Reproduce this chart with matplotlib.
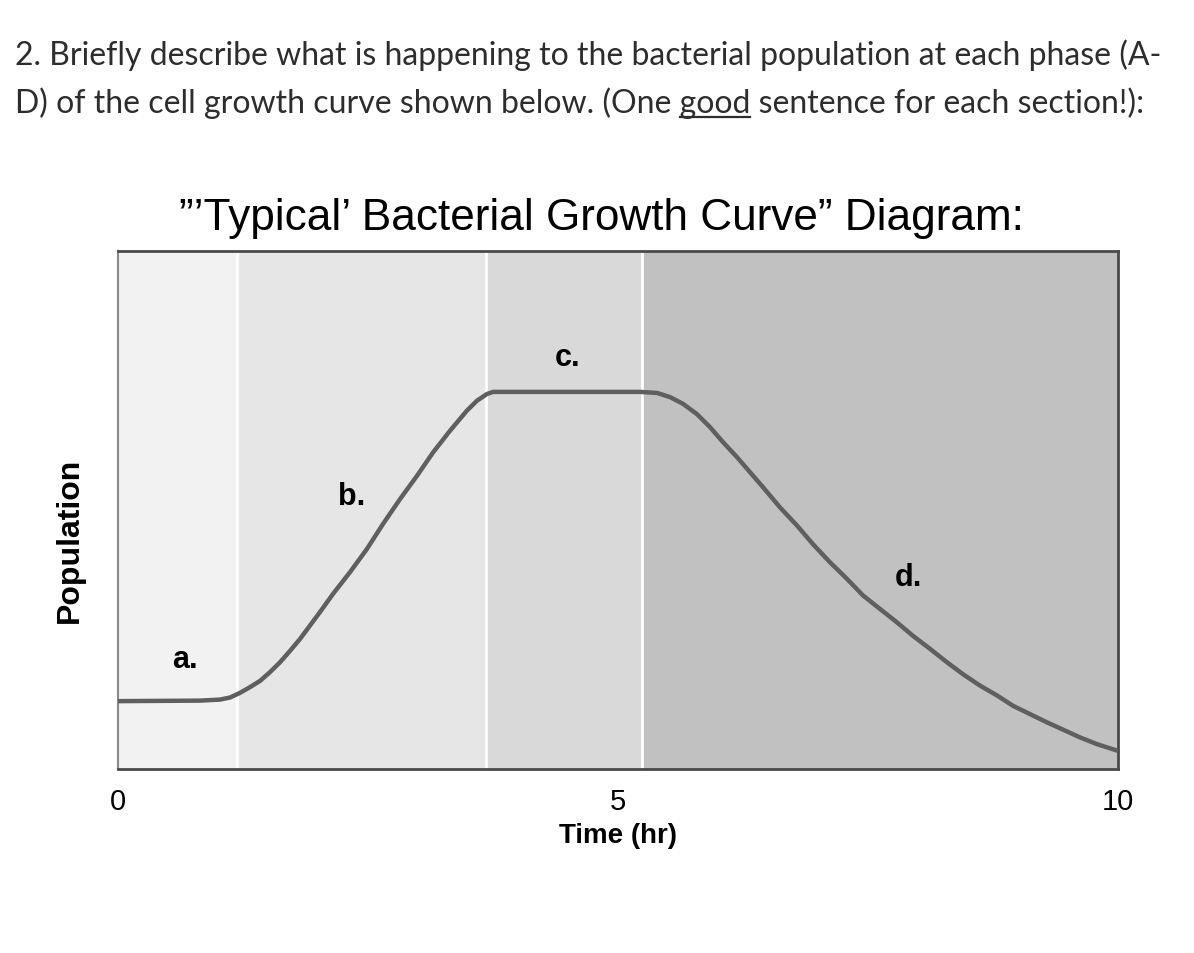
import matplotlib
matplotlib.use("Agg")
import matplotlib.pyplot as plt
from matplotlib.lines import Line2D

# ---------------- data ----------------
time_hr = [0.0, 0.82, 1.02, 1.12, 1.22, 1.32, 1.42, 1.52, 1.62, 1.72, 1.82, 1.92,
           2.02, 2.15, 2.32, 2.49, 2.65, 2.82, 2.99, 3.15, 3.32, 3.49, 3.59, 3.69,
           3.75, 5.22, 5.39, 5.52, 5.65, 5.79, 5.92, 6.05, 6.19, 6.32, 6.45, 6.62,
           6.79, 6.95, 7.12, 7.29, 7.45, 7.62, 7.79, 7.95, 8.12, 8.29, 8.45, 8.62,
           8.79, 8.95, 9.12, 9.29, 9.45, 9.62, 9.79, 10.0]
population = [13.1, 13.2, 13.4, 13.8, 14.7, 15.8, 17.0, 18.7, 20.6, 22.8, 25.1, 27.7,
              30.3, 33.8, 38.0, 42.5, 47.3, 52.1, 56.6, 61.1, 65.3, 69.2, 71.1, 72.4,
              72.8, 72.8, 72.6, 71.8, 70.5, 68.5, 66.0, 63.1, 60.2, 57.3, 54.4, 50.5,
              47.0, 43.4, 39.9, 36.7, 33.5, 30.9, 28.3, 25.7, 23.2, 20.6, 18.3, 16.1,
              14.2, 12.2, 10.6, 9.0, 7.6, 6.1, 4.8, 3.5]
phase_edges = [0, 1.19, 3.68, 5.24, 10]
phase_colors = ["#f2f2f2", "#e6e6e6", "#d9d9d9", "#c1c1c1"]
phase_labels = ["a.", "b.", "c.", "d."]
phase_label_x = [0.67, 2.34, 4.5, 7.9]
phase_label_y = [21.2, 52.7, 79.5, 37.1]
x_ticks = [0, 5, 10]
x_tick_labels = ["0", "5", "10"]

header_line1 = "2. Briefly describe what is happening to the bacterial population at each phase (A-"
header_line2_pre = "D) of the cell growth curve shown below. (One"
header_line2_ul = "good"
header_line2_post = "sentence for each section!):"
title = "\u201d\u2019Typical\u2019 Bacterial Growth Curve\u201d Diagram:"

W, H = 1194, 954
fig = plt.figure(figsize=(W / 100, H / 100), dpi=100)
fig.patch.set_facecolor("white")

narrow = ["Liberation Sans Narrow", "Liberation Sans", "DejaVu Sans"]
header_font = dict(family=["Lato", "DejaVu Sans"], size=23, color="#2d2d2d")

ax = fig.add_axes([118 / W, (H - 770) / H, 1000 / W, 518 / H])
ax.set_xlim(0, 10)
ax.set_ylim(0, 100)

for i in range(len(phase_colors)):
    ax.axvspan(phase_edges[i], phase_edges[i + 1], color=phase_colors[i], lw=0, zorder=0)
for e in phase_edges[1:-1]:
    ax.axvline(e, color="white", lw=2, zorder=1)

ax.plot(time_hr, population, color="#5f5f5f", lw=3.2, solid_capstyle="butt",
        solid_joinstyle="round", zorder=3)

for lab, lx, ly in zip(phase_labels, phase_label_x, phase_label_y):
    ax.text(lx, ly, lab, ha="center", va="center", fontsize=22, fontweight="bold",
            family=narrow, color="black", zorder=4)

ax.set_xticks(x_ticks)
ax.set_xticklabels(x_tick_labels, family=narrow, fontsize=21)
ax.set_yticks([])
ax.tick_params(axis="x", length=0, pad=13)
ax.set_xlabel("Time (hr)", family=narrow, fontsize=20, fontweight="bold", labelpad=5)

fig.text(70 / W, 1 - 540 / H, "Population", rotation=90, ha="center", va="center",
         family=["Liberation Sans", "DejaVu Sans"], fontsize=23, fontweight="bold",
         color="black")

ax.spines["top"].set_color("#4a4a4a")
ax.spines["top"].set_linewidth(2)
ax.spines["bottom"].set_color("#4a4a4a")
ax.spines["bottom"].set_linewidth(2)
ax.spines["left"].set_color("#8a8a8a")
ax.spines["left"].set_linewidth(1.5)
ax.spines["right"].set_color("#4a4a4a")
ax.spines["right"].set_linewidth(2)

fig.text(601 / W, 1 - 230 / H, title, ha="center", va="baseline",
         family=narrow, fontsize=31.8, color="black")

# header
x0 = 15 / W
fig.text(x0, 1 - 65 / H, header_line1, ha="left", va="baseline", **header_font)
line2 = header_line2_pre + " " + header_line2_ul + " " + header_line2_post
fig.text(x0, 1 - 113 / H, line2, ha="left", va="baseline", **header_font)

fig.canvas.draw()
renderer = fig.canvas.get_renderer()

def text_width(s):
    t = fig.text(0, 0, s, **header_font)
    w = t.get_window_extent(renderer).width
    t.remove()
    return w

space_w = text_width("a a") - text_width("aa")
start_px = 15 + text_width(header_line2_pre) + space_w
good_w = text_width(header_line2_ul)
uy = 1 - 118 / H
fig.add_artist(Line2D([start_px / W, (start_px + good_w) / W], [uy, uy],
                      transform=fig.transFigure, color="#2d2d2d", lw=1.6))

fig.savefig("out.png", dpi=100, facecolor="white")
